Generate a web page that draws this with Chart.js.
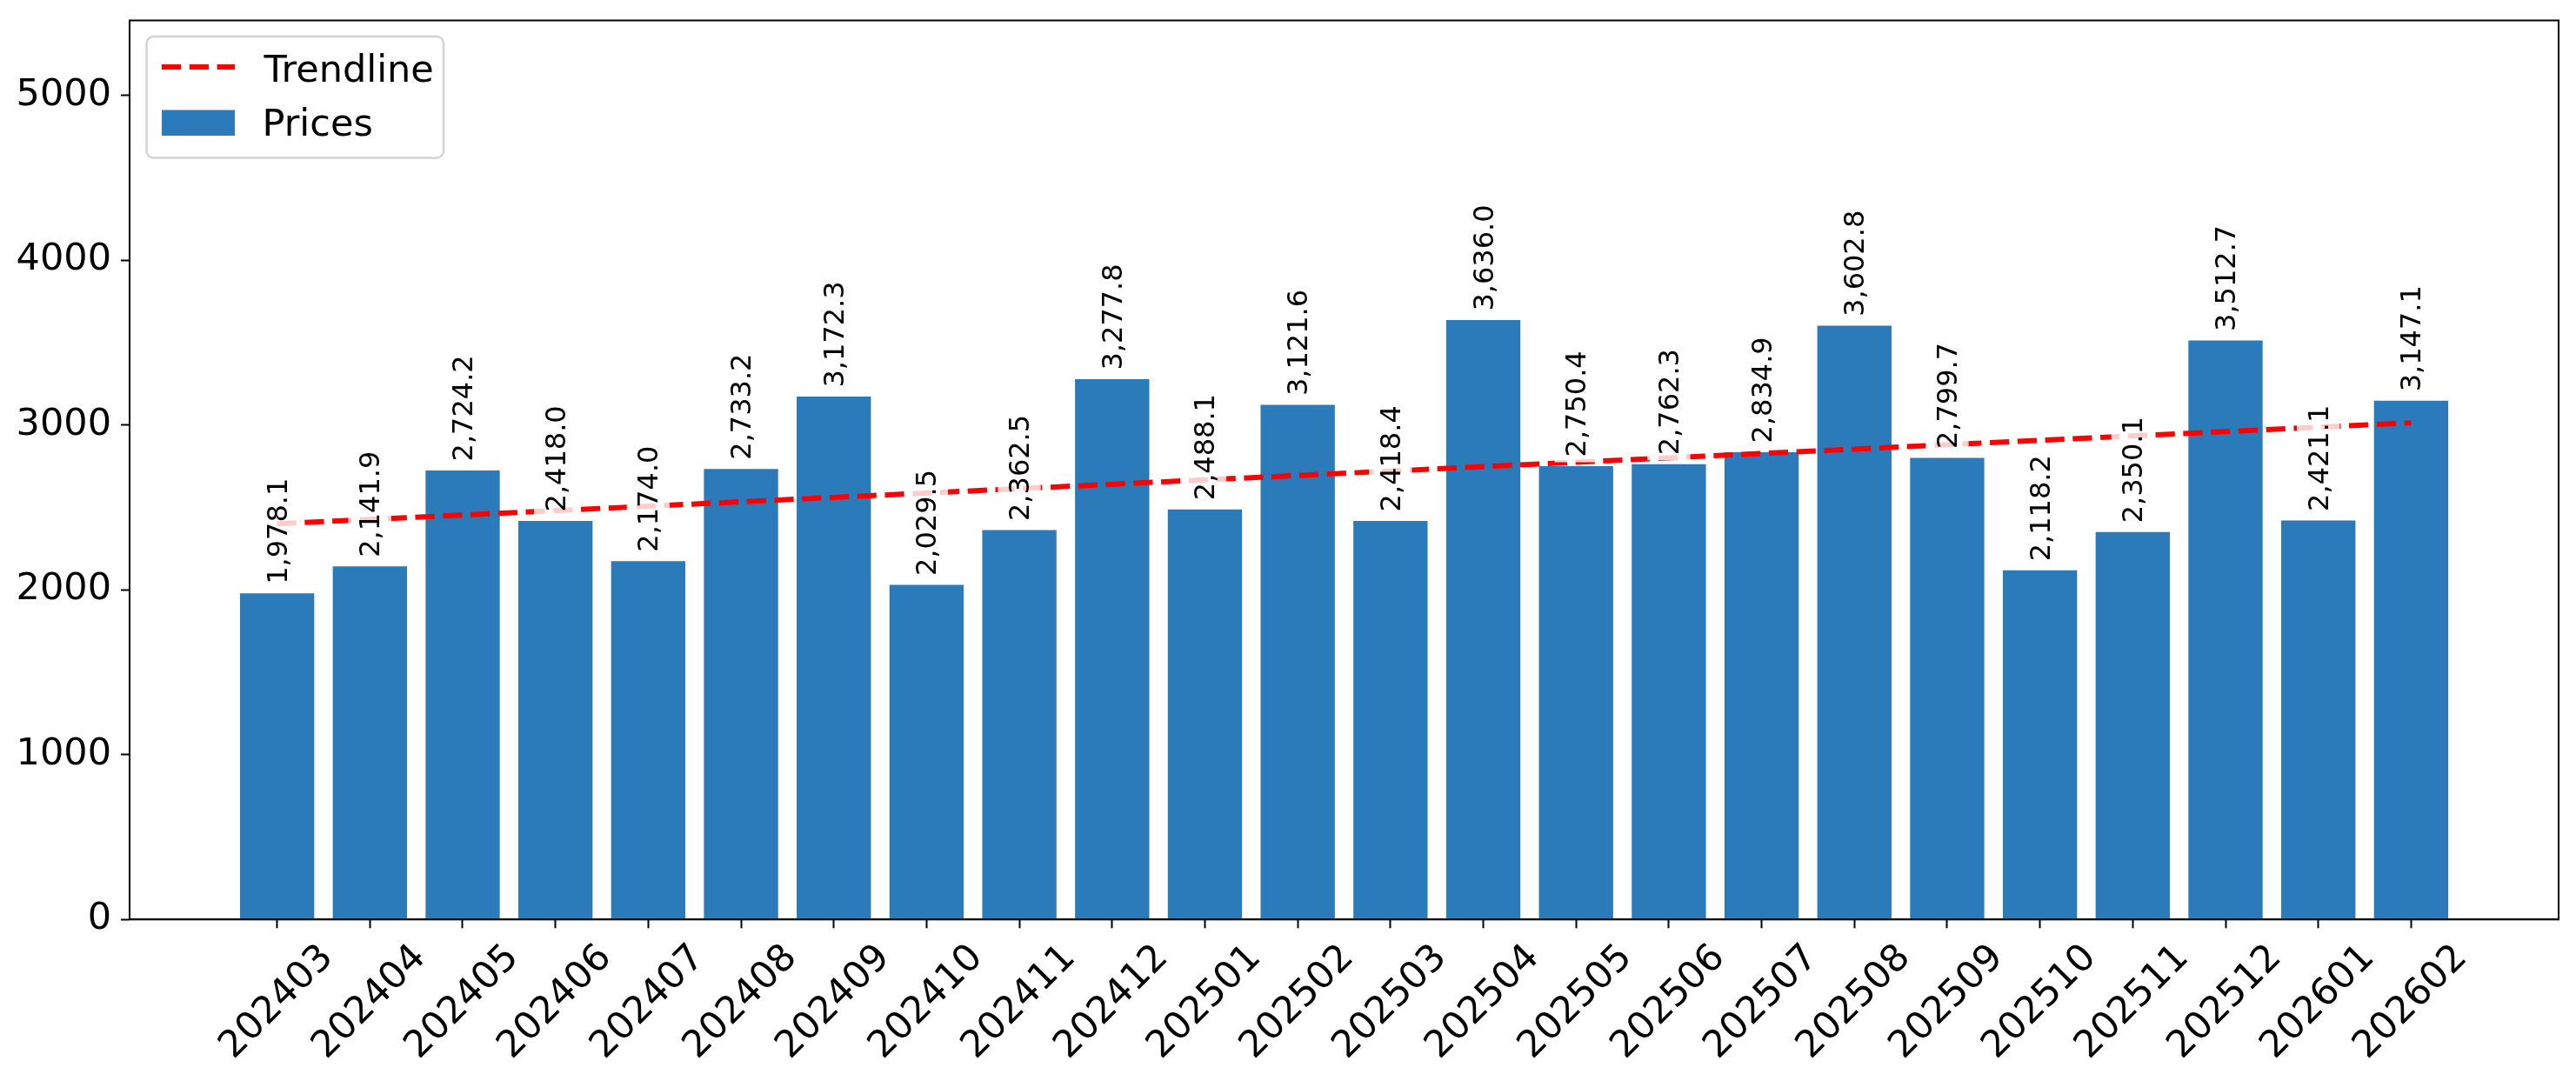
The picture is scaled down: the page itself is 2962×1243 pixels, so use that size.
<!DOCTYPE html>
<html>
<head>
<meta charset="utf-8">
<script src="https://cdn.jsdelivr.net/npm/chart.js@4.4.1/dist/chart.umd.min.js"></script>
<style>
  html, body { margin: 0; padding: 0; background: #fff; }
  #wrap { width: 2962px; height: 1243px; }
</style>
</head>
<body>
<div id="wrap"><canvas id="myChart"></canvas></div>
<script>
// chart data
var months = ['202403', '202404', '202405', '202406', '202407', '202408', '202409', '202410',
              '202411', '202412', '202501', '202502', '202503', '202504', '202505', '202506',
              '202507', '202508', '202509', '202510', '202511', '202512', '202601', '202602'];
var prices = [1978.1, 2141.9, 2724.2, 2418.0, 2174.0, 2733.2, 3172.3, 2029.5,
              2362.5, 3277.8, 2488.1, 3121.6, 2418.4, 3636.0, 2750.4, 2762.3,
              2834.9, 3602.8, 2799.7, 2118.2, 2350.1, 3512.7, 2421.1, 3147.1];
// trendline read at first and last month
var trendline = [2401, 3013];
var yTicks = [0, 1000, 2000, 3000, 4000, 5000];
var yMax = 5454;

var blue = '#2b7bba';
var red = '#ff0000';
var font = '"DejaVu Sans"';

function fmt(v) {
    return v.toLocaleString('en-US', { minimumFractionDigits: 1, maximumFractionDigits: 1 });
}

// value labels above the bars, rotated, with a faint white box
var barLabels = {
    id: 'barLabels',
    afterDatasetsDraw: function(chart) {
        var ctx = chart.ctx;
        var meta = chart.getDatasetMeta(1);
        ctx.save();
        ctx.font = '32px ' + font;
        meta.data.forEach(function(bar, i) {
            var text = fmt(prices[i]);
            var w = ctx.measureText(text).width;
            ctx.save();
            ctx.translate(bar.x, bar.y - 10.5);
            ctx.rotate(-Math.PI / 2);
            ctx.fillStyle = 'rgba(255,255,255,0.8)';
            ctx.fillRect(-6, 11 - 29.7 - 6, w + 12, 37.3 + 12);
            ctx.fillStyle = '#000';
            ctx.textBaseline = 'alphabetic';
            ctx.textAlign = 'left';
            ctx.fillText(text, 0, 11);
            ctx.restore();
        });
        ctx.restore();
    }
};

// box around plot and legend in the upper left
var frame = {
    id: 'frame',
    afterDraw: function(chart) {
        var ctx = chart.ctx;
        var a = chart.chartArea;
        ctx.save();
        ctx.strokeStyle = '#000';
        ctx.lineWidth = 2;
        ctx.strokeRect(a.left, a.top, a.right - a.left, a.bottom - a.top);

        var lx = a.left + 19.5, ly = a.top + 18.5;
        ctx.beginPath();
        ctx.roundRect(lx, ly, 341.5, 139.5, 8);
        ctx.fillStyle = 'rgba(255,255,255,0.8)';
        ctx.fill();
        ctx.strokeStyle = '#d4d4d4';
        ctx.lineWidth = 2.5;
        ctx.stroke();

        ctx.beginPath();
        ctx.setLineDash([22.2, 9.6]);
        ctx.strokeStyle = red;
        ctx.lineWidth = 6;
        ctx.moveTo(lx + 17.5, ly + 35);
        ctx.lineTo(lx + 101.5, ly + 35);
        ctx.stroke();
        ctx.setLineDash([]);

        ctx.fillStyle = blue;
        ctx.fillRect(lx + 17.5, ly + 84.5, 84, 29.5);

        ctx.fillStyle = '#000';
        ctx.font = '43px ' + font;
        ctx.textBaseline = 'alphabetic';
        ctx.fillText('Trendline', lx + 135, ly + 51.5);
        ctx.fillText('Prices', lx + 133, ly + 113.5);
        ctx.restore();
    }
};

function noPad(axis) {
    axis.paddingTop = 0;
    axis.paddingBottom = 0;
    axis.paddingLeft = 0;
    axis.paddingRight = 0;
}

window.onload = function() {
    Chart.defaults.font.family = font;
    Chart.defaults.color = '#000';

    var ctx = document.getElementById('myChart').getContext('2d');
    var myChart = new Chart(ctx, {
        type: 'bar',
        data: {
            datasets: [{
                type: 'line',
                label: 'Trendline',
                data: [{ x: 0, y: trendline[0] }, { x: months.length - 1, y: trendline[1] }],
                borderColor: red,
                borderWidth: 6,
                borderDash: [22.2, 9.6],
                pointRadius: 0,
                fill: false,
                tension: 0,
                order: 0
            }, {
                label: 'Prices',
                data: prices.map(function(v, i) { return { x: i, y: v }; }),
                backgroundColor: blue,
                borderWidth: 0,
                categoryPercentage: 1.0,
                barPercentage: 0.8,
                order: 1
            }]
        },
        options: {
            responsive: true,
            maintainAspectRatio: false,
            devicePixelRatio: 1,
            animation: false,
            layout: { padding: { top: 23.5, right: 20, left: 0, bottom: 0 } },
            plugins: {
                legend: { display: false },
                tooltip: { enabled: false }
            },
            scales: {
                x: {
                    type: 'linear',
                    min: -1.59,
                    max: months.length - 1 + 1.59,
                    offset: false,
                    afterBuildTicks: function(axis) {
                        axis.ticks = months.map(function(m, i) { return { value: i }; });
                    },
                    afterFit: function(axis) { axis.height = 185.7; noPad(axis); },
                    grid: { offset: false, drawOnChartArea: false, drawTicks: true, tickLength: 10, tickWidth: 2, tickColor: '#000' },
                    border: { display: true, color: '#000', width: 2 },
                    ticks: {
                        autoSkip: false,
                        minRotation: 45,
                        maxRotation: 45,
                        labelOffset: 58,
                        padding: 9.2,
                        font: { size: 43 },
                        callback: function(value) { return months[value]; }
                    }
                },
                y: {
                    min: 0,
                    max: yMax,
                    afterBuildTicks: function(axis) {
                        axis.ticks = yTicks.map(function(v) { return { value: v }; });
                    },
                    afterFit: function(axis) { axis.width = 149; noPad(axis); },
                    grid: { drawOnChartArea: false, drawTicks: true, tickLength: 10, tickWidth: 2, tickColor: '#000' },
                    border: { display: true, color: '#000', width: 2 },
                    ticks: {
                        padding: 11,
                        font: { size: 43 },
                        callback: function(value) { return String(value); }
                    }
                }
            }
        },
        plugins: [barLabels, frame]
    });
};
</script>
</body>
</html>
